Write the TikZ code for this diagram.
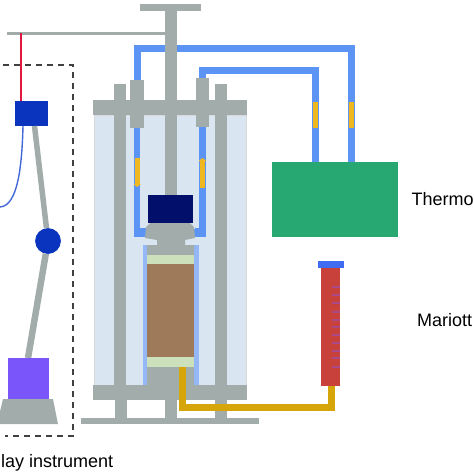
\documentclass[tikz,border=0pt]{standalone}
\usepackage{fontspec}
\setmainfont{Liberation Sans}
\definecolor{steel}{HTML}{A2ADAB}
\definecolor{jacket}{HTML}{D9E5F1}
\definecolor{pipe}{HTML}{5B94F5}
\definecolor{sleeve}{HTML}{94B8F5}
\definecolor{brass}{HTML}{D6A50A}
\definecolor{arrowy}{HTML}{F0B820}
\definecolor{navy}{HTML}{03106B}
\definecolor{royal}{HTML}{0A33BE}
\definecolor{violet}{HTML}{7A55FA}
\definecolor{bath}{HTML}{27A873}
\definecolor{soil}{HTML}{9F7A5A}
\definecolor{porous}{HTML}{CDE0BC}
\definecolor{bottle}{HTML}{C8413A}
\definecolor{capblue}{HTML}{3F6CF0}
\definecolor{wire}{HTML}{4568D8}
\definecolor{redwire}{HTML}{E01840}
\tikzset{
  x=1pt,y=-1pt,
  solid part/.style={fill=#1,draw=none},
  tube/.style={draw=#1,line width=7pt,line join=miter},
  label text/.style={font=\fontsize{18}{20}\selectfont,anchor=base west,inner sep=0pt},
  flow/.style={fill=arrowy,draw=none}
}
\begin{document}
\begin{tikzpicture}
\useasboundingbox (0,0) rectangle (474,474);
\fill[white] (0,0) rectangle (474,474);
% jacket
\fill[jacket,draw=black!15,line width=.4pt] (94,115) rectangle (246,385);
% sleeve
\fill[sleeve] (143,245) rectangle (199,385);
\fill[jacket] (147.5,245) rectangle (194,385);
% pipes
\draw[tube=pipe] (137,80) |- (351,48.5) -- (351,162);
\draw[tube=pipe] (202.5,80) |- (315,70.5) -- (315,162);
\fill[pipe] (134,128) rectangle (140,237);
\fill[pipe] (199,127) rectangle (205.5,237);
\fill[pipe] (134,228) rectangle (147,237);
\fill[pipe] (193,228) rectangle (205.5,237);
% frame
\fill[steel] (140,4) rectangle (201,11);
\fill[steel] (7,32) rectangle (165,35);
\fill[steel] (165,11) rectangle (177,195);
\fill[steel] (93,100) rectangle (247,115);
\fill[steel] (114,84) rectangle (126,400);
\fill[steel] (215,84) rectangle (227,400);
\fill[steel] (130,80) rectangle (143.5,128);
\fill[steel] (196,78) rectangle (209,127);
% head
\fill[jacket] (146,223) rectangle (195,229);
\fill[steel] (150,223) -- (190,223) -- (194,227) -- (195,238) -- (185,240) -- (185,245) -- (194,245) -- (194,255) -- (147,255) -- (147,245) -- (157,245) -- (157,240) -- (145,238) -- (146,227) -- cycle;
\fill[navy] (148,195) rectangle (192.5,223);
% column
\fill[porous] (147,255) rectangle (194,264);
\fill[soil] (147,264) rectangle (194,357);
\fill[porous] (147,357) rectangle (194,367);
\fill[steel] (147,367) rectangle (194,385);
\fill[steel] (93,385) rectangle (247,400);
\fill[steel] (115,400) rectangle (127,420);
\fill[steel] (165,400) rectangle (177,420);
\fill[steel] (215,400) rectangle (227,420);
\fill[steel] (81,418) rectangle (259,424);
% flow arrows
\fill[flow] (135,158) rectangle (139.5,184);
\fill[flow] (133.5,184) -- (141,184) -- (137,187) -- cycle;
\fill[flow] (200,161) rectangle (205,187.5);
\fill[flow] (198.5,161) -- (206.5,161) -- (202.5,158) -- cycle;
\fill[flow] (313,102) rectangle (317.5,128);
\fill[flow] (349,102) rectangle (353.5,128);
% thermostat
\node[solid part=bath,minimum width=126pt,minimum height=75pt,inner sep=0pt,anchor=north west] (bath) at (272,162) {};
% mariotte
\fill[bottle] (321,268) rectangle (340,386);
\foreach \yy in {287,295,303,312,320,327,335,343,351,358,367}
  \fill[violet!40!bottle] (332,\yy-.7) rectangle (340,\yy+.7);
\fill[capblue] (318,261) rectangle (344,268);
% brass line
\draw[tube=brass] (182.5,367) |- (331,407) -- (331,386);
% display instrument
\draw[black!75,line width=1.2pt,dash pattern=on 6pt off 5pt] (3,65) -- (73,65) -- (73,436) -- (5,436);
\draw[redwire,line width=1.2pt] (21,33) -- (21,101);
\node[solid part=royal,minimum width=33.5pt,minimum height=25.5pt,inner sep=0pt,anchor=north west] (meter) at (14.5,100.5) {};
\draw[wire,line width=1.4pt] (23,126) .. controls (22,165) and (18,206) .. (0,207);
\node[circle,solid part=royal,minimum size=25.5pt,inner sep=0pt] (ball) at (48,241) {};
\fill[steel] (3,399) -- (-3,424) -- (58,424) -- (53,399) -- cycle;
\draw[steel,line width=5.5pt] (34.5,126) -- (ball);
\draw[steel,line width=6.5pt] (ball) -- (28,358);
\node[circle,solid part=royal,minimum size=25.5pt,inner sep=0pt] at (48,241) {};
\fill[violet] (8,358) rectangle (49,399);
% labels
\node[label text] (t1) at (411.5,205) {Thermo};
\node[label text] (t2) at (417,326) {Mariott};
\node[label text] (t3) at (1,467) {lay instrument};
\end{tikzpicture}
\end{document}
